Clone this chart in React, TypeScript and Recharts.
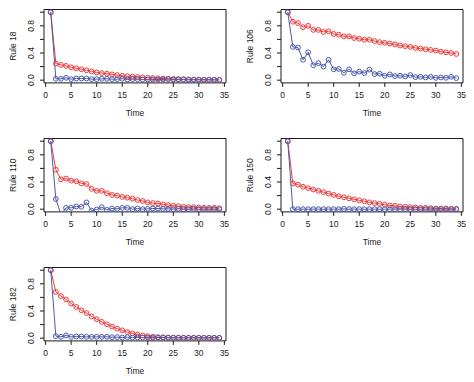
import React from 'react';
import { LineChart, Line, XAxis, YAxis, ReferenceArea } from 'recharts';

const TIME = [1, 2, 3, 4, 5, 6, 7, 8, 9, 10, 11, 12, 13, 14, 15, 16, 17, 18, 19, 20, 21, 22, 23, 24, 25, 26, 27, 28, 29, 30, 31, 32, 33, 34];

const RED_18 = [1.0, 0.245, 0.225, 0.21, 0.19, 0.175, 0.16, 0.145, 0.13, 0.115, 0.105, 0.095, 0.085, 0.075, 0.065, 0.058, 0.052, 0.046, 0.041, 0.036, 0.032, 0.028, 0.024, 0.021, 0.018, 0.016, 0.014, 0.012, 0.01, 0.009, 0.008, 0.007, 0.006, 0.005];
const BLUE_18 = [1.0, 0.02, 0.02, 0.035, 0.015, 0.025, 0.025, 0.025, 0.015, 0.015, 0.02, 0.02, 0.015, 0.015, 0.02, 0.01, 0.015, 0.015, 0.01, 0.01, 0.01, 0.01, 0.01, 0.015, 0.01, 0.01, 0.01, 0.005, 0.005, 0.005, 0.005, 0.005, 0.005, 0.005];

const RED_106 = [1.0, 0.86, 0.84, 0.78, 0.8, 0.74, 0.74, 0.71, 0.72, 0.68, 0.67, 0.645, 0.645, 0.62, 0.61, 0.595, 0.595, 0.575, 0.56, 0.55, 0.54, 0.525, 0.51, 0.5, 0.49, 0.475, 0.465, 0.455, 0.445, 0.435, 0.42, 0.41, 0.4, 0.385];
const BLUE_106 = [1.0, 0.49, 0.48, 0.3, 0.41, 0.22, 0.25, 0.2, 0.3, 0.16, 0.165, 0.11, 0.16, 0.1, 0.125, 0.105, 0.155, 0.09, 0.095, 0.065, 0.085, 0.06, 0.065, 0.055, 0.075, 0.045, 0.05, 0.04, 0.05, 0.035, 0.04, 0.035, 0.05, 0.03];

const RED_110 = [1.0, 0.58, 0.44, 0.45, 0.42, 0.41, 0.38, 0.37, 0.3, 0.27, 0.27, 0.235, 0.21, 0.2, 0.18, 0.17, 0.155, 0.135, 0.12, 0.1, 0.09, 0.085, 0.07, 0.06, 0.05, 0.045, 0.035, 0.03, 0.03, 0.025, 0.02, 0.02, 0.02, 0.015];
const BLUE_110 = [1.0, 0.15, -0.08, 0.02, 0.02, 0.04, 0.035, 0.1, -0.02, -0.005, 0.03, -0.01, 0.01, 0.005, 0.02, 0.02, 0.0, 0.01, 0.0, 0.005, 0.01, 0.01, 0.005, 0.005, 0.0, 0.005, 0.0, 0.0, 0.005, 0.0, 0.0, 0.0, 0.0, 0.0];

const RED_150 = [1.0, 0.38, 0.36, 0.33, 0.31, 0.29, 0.27, 0.25, 0.23, 0.21, 0.19, 0.175, 0.16, 0.145, 0.13, 0.115, 0.1, 0.09, 0.08, 0.065, 0.055, 0.05, 0.04, 0.035, 0.03, 0.025, 0.02, 0.02, 0.015, 0.01, 0.01, 0.01, 0.005, 0.005];
const BLUE_150 = [1.0, 0.0, 0.0, 0.0, 0.0, 0.0, 0.0, 0.0, 0.0, 0.0, 0.0, 0.005, 0.0, 0.0, 0.0, 0.0, 0.0, 0.0, 0.0, 0.0, 0.0, 0.0, 0.0, 0.0, 0.0, 0.0, 0.0, 0.0, 0.0, 0.0, 0.0, 0.0, 0.0, 0.0];

const RED_182 = [1.0, 0.68, 0.62, 0.57, 0.51, 0.46, 0.41, 0.37, 0.32, 0.28, 0.24, 0.205, 0.17, 0.14, 0.115, 0.09, 0.07, 0.054, 0.04, 0.03, 0.02, 0.015, 0.012, 0.01, 0.008, 0.007, 0.006, 0.005, 0.005, 0.005, 0.005, 0.005, 0.005, 0.005];
const BLUE_182 = [1.0, 0.03, 0.02, 0.04, 0.02, 0.025, 0.025, 0.02, 0.02, 0.02, 0.02, 0.02, 0.015, 0.015, 0.01, 0.015, 0.01, 0.01, 0.01, 0.01, 0.01, 0.01, 0.01, 0.005, 0.005, 0.005, 0.005, 0.005, 0.005, 0.005, 0.005, 0.005, 0.005, 0.005];

const PANEL_LABELS = ['Rule 18', 'Rule 106', 'Rule 110', 'Rule 150', 'Rule 182'];
const X_TICKS = [0, 5, 10, 15, 20, 25, 30, 35];
const Y_TICKS = [0, 0.2, 0.4, 0.6, 0.8, 1.0];
const Y_LABELED = [0, 0.4, 0.8];
const X_DOMAIN: [number, number] = [-0.32, 35.32];
const Y_DOMAIN: [number, number] = [-0.04, 1.04];

const RED = '#ee3a3a';
const BLUE = '#4a5aab';
const INK = '#1a1a1a';
const FONT = '"Liberation Sans Narrow", "Arial Narrow", "Liberation Sans", Arial, Helvetica, sans-serif';
const FS = 8.5;

const YTick = (props: any) => {
  const { x, y, payload } = props;
  const v = payload.value;
  const show = Y_LABELED.some((t) => Math.abs(t - v) < 1e-9);
  if (!show) return <g />;
  return (
    <text
      x={0}
      y={0}
      transform={`translate(${x},${y}) rotate(-90)`}
      textAnchor="middle"
      fontSize={FS}
      fontFamily={FONT}
      fill={INK}
    >
      {v.toFixed(1)}
    </text>
  );
};

const YLabel = (props: any) => {
  const vb = props.viewBox || {};
  const cx = (vb.x || 0) + 16.3;
  const cy = (vb.y || 0) + (vb.height || 0) / 2;
  return (
    <text
      x={0}
      y={0}
      transform={`translate(${cx},${cy}) rotate(-90)`}
      textAnchor="middle"
      fontSize={FS}
      fontFamily={FONT}
      fill={INK}
    >
      {props.text}
    </text>
  );
};

const XLabel = (props: any) => {
  const vb = props.viewBox || {};
  const cx = (vb.x || 0) + (vb.width || 0) / 2;
  const cy = (vb.y || 0) + 33;
  return (
    <text x={cx} y={cy} textAnchor="middle" fontSize={FS} fontFamily={FONT} fill={INK}>
      Time
    </text>
  );
};

function Panel({ label, red, blue, left, top }: { label: string; red: number[]; blue: number[]; left: number; top: number }) {
  const data = TIME.map((t, i) => ({ t, red: red[i], blue: blue[i] }));
  return (
    <div style={{ position: 'absolute', left, top }}>
      <LineChart width={237} height={124} data={data} margin={{ top: 9.5, right: 11, bottom: 0, left: 0 }}>
        <XAxis
          dataKey="t"
          type="number"
          domain={X_DOMAIN}
          ticks={X_TICKS}
          allowDataOverflow
          interval={0}
          axisLine={false}
          tickLine={{ stroke: INK }}
          tickSize={4}
          tickMargin={5}
          height={41.1}
          tick={{ fontSize: FS, fill: INK, fontFamily: FONT }}
          label={<XLabel />}
        />
        <YAxis
          type="number"
          domain={Y_DOMAIN}
          ticks={Y_TICKS}
          allowDataOverflow
          interval={0}
          axisLine={false}
          tickLine={{ stroke: INK }}
          tickSize={4}
          tickMargin={6}
          width={44}
          tick={<YTick />}
          label={<YLabel text={label} />}
        />
        <ReferenceArea
          x1={X_DOMAIN[0]}
          x2={X_DOMAIN[1]}
          y1={Y_DOMAIN[0]}
          y2={Y_DOMAIN[1]}
          fill="none"
          stroke={INK}
          strokeWidth={1}
          fillOpacity={0}
          ifOverflow="visible"
        />
        <Line
          dataKey="red"
          stroke={RED}
          strokeWidth={1}
          isAnimationActive={false}
          dot={{ r: 2.4, fill: 'none', stroke: RED, strokeWidth: 1 }}
          activeDot={false}
        />
        <Line
          dataKey="blue"
          stroke={BLUE}
          strokeWidth={1}
          isAnimationActive={false}
          dot={{ r: 2.4, fill: 'none', stroke: BLUE, strokeWidth: 1 }}
          activeDot={false}
        />
      </LineChart>
    </div>
  );
}

export default function App() {
  const series = [
    { red: RED_18, blue: BLUE_18 },
    { red: RED_106, blue: BLUE_106 },
    { red: RED_110, blue: BLUE_110 },
    { red: RED_150, blue: BLUE_150 },
    { red: RED_182, blue: BLUE_182 },
  ];
  return (
    <div style={{ position: 'absolute', left: 0, top: 0, width: 474, height: 382, background: '#fff', overflow: 'hidden' }}>
      {series.map((s, i) => (
        <Panel
          key={PANEL_LABELS[i]}
          label={PANEL_LABELS[i]}
          red={s.red}
          blue={s.blue}
          left={(i % 2) * 237}
          top={Math.floor(i / 2) * 129}
        />
      ))}
    </div>
  );
}
